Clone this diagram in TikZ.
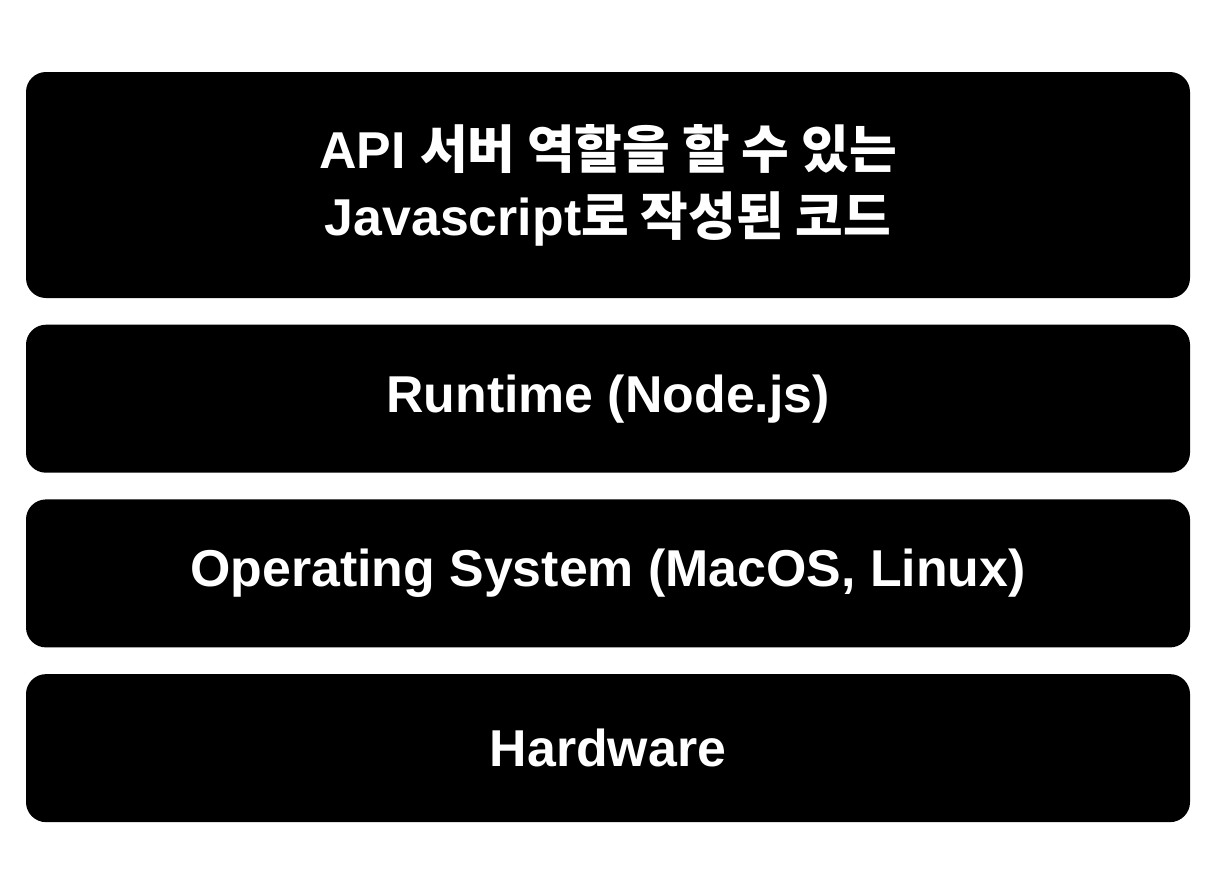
\documentclass[tikz,border=0pt]{standalone}
\usepackage{fontspec}
\setmainfont{Liberation Sans}
\newfontfamily\krfont{Noto Sans CJK KR}
\usepackage{tikz}
\usetikzlibrary{positioning}

\begin{document}
\begin{tikzpicture}[
layerbox/.style={fill=black, rounded corners=0.4cm, minimum width=23.28cm, minimum height=2.96cm, text=white, align=center, font=\fontsize{29.5}{38}\selectfont\bfseries},
node distance=0.52cm,
]
\useasboundingbox (0,0) rectangle (24.2,-17.48);

% Defining the layers
\node[layerbox, minimum height=4.52cm] (code) at (12.16,-3.7) {API {\krfont\bfseries 서버 역할을 할 수 있는}\\Javascript{\krfont\bfseries 로 작성된 코드}};
\node[layerbox] (runtime) [below=of code] {Runtime (Node.js)};
\node[layerbox] (os) [below=of runtime] {Operating System (MacOS, Linux)};
\node[layerbox] (hardware) [below=of os] {Hardware};

\end{tikzpicture}
\end{document}
